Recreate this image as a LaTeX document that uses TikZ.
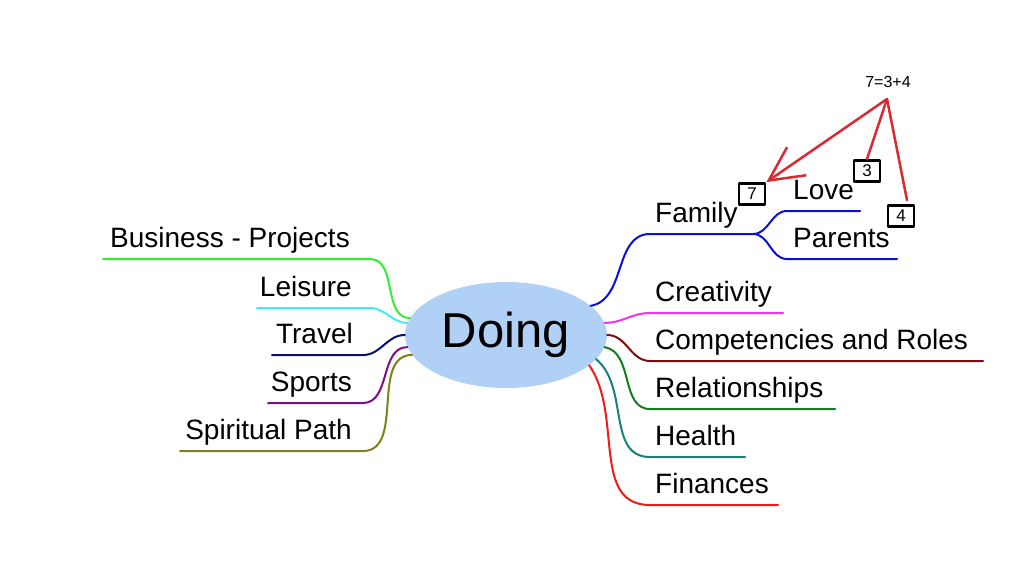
\documentclass[tikz,border=0pt]{standalone}
\usepackage{fontspec}
\setmainfont{Liberation Sans}
\usetikzlibrary{arrows.meta,shapes.geometric}
\definecolor{qqffqq}{rgb}{0.2,0.93,0.2}
\definecolor{qqffff}{rgb}{0.25,0.93,0.96}
\definecolor{qqqqww}{rgb}{0.05,0.05,0.45}
\definecolor{wwqqww}{rgb}{0.5,0.05,0.5}
\definecolor{wwwwqq}{rgb}{0.5,0.5,0.1}
\definecolor{qqqqdd}{rgb}{0.05,0.05,0.85}
\definecolor{ffqqff}{rgb}{0.93,0.2,0.93}
\definecolor{wwqqqq}{rgb}{0.5,0.05,0.05}
\definecolor{qqwwqq}{rgb}{0.05,0.5,0.1}
\definecolor{qqwwww}{rgb}{0.1,0.5,0.5}
\definecolor{ffqqqq}{rgb}{0.95,0.1,0.1}
\definecolor{ddqqqq}{rgb}{0.86,0.16,0.2}
\definecolor{bbddff}{rgb}{0.69,0.82,0.96}

\begin{document}
\begin{tikzpicture}[line cap=round,line join=round,x=1pt,y=-1pt,
	branch/.style={line width=2pt},
	topic/.style={font=\fontsize{28}{30}\selectfont,inner sep=0pt},
	numbox/.style={draw,line width=2.8pt,font=\fontsize{17}{18}\selectfont,minimum width=26pt,minimum height=21pt,inner sep=0pt},
	sumline/.style={color=ddqqqq,line width=2.5pt}]
			\useasboundingbox (0,0) rectangle (1010,568);
			\node [ellipse,fill=bbddff,minimum width=202pt,minimum height=106pt,inner sep=0pt,font=\fontsize{49}{50}\selectfont] (doing) at (506,335) {\raisebox{-3pt}{Doing}};
			
			% left side
			\node [topic,anchor=base east] (business) at (350,247) {Business - Projects};
			\coordinate (businessA) at (103,259); \coordinate (businessB) at (370,259);
			\draw [branch,color=qqffqq] (businessA) -- (businessB) to[out=0,in=180] (doing.170);
			
			\node [topic,anchor=base east] (leisure) at (352,296) {Leisure};
			\coordinate (leisureA) at (257,308); \coordinate (leisureB) at (370,308);
			\draw [branch,color=qqffff] (leisureA) -- (leisureB) to[out=0,in=180] (doing.173);
			
			\node [topic,anchor=base east] (travel) at (353,343) {Travel};
			\coordinate (travelA) at (272,355); \coordinate (travelB) at (363,355);
			\draw [branch,color=qqqqww] (travelA) -- (travelB) to[out=0,in=180] (doing.180);
			
			\node [topic,anchor=base east] (sports) at (352,391) {Sports};
			\coordinate (sportsA) at (268,403); \coordinate (sportsB) at (363,403);
			\draw [branch,color=wwqqww] (sportsA) -- (sportsB) to[out=0,in=180] (doing.187);
			
			\node [topic,anchor=base east] (spiritual) at (352,439) {Spiritual Path};
			\coordinate (spiritualA) at (180,451); \coordinate (spiritualB) at (363,451);
			\draw [branch,color=wwwwqq] (spiritualA) -- (spiritualB) to[out=0,in=180] (doing.192);
			
			% right side
			\node [topic,anchor=base west] (family) at (655,222) {Family};
			\coordinate (familyA) at (650,234); \coordinate (familyB) at (753,234);
			\draw [branch,color=qqqqdd] (doing.19) to[out=10,in=180] (familyA) -- (familyB);
			
			\node [topic,anchor=base west] (love) at (793,199) {Love};
			\coordinate (loveA) at (787,211); \coordinate (loveB) at (860,211);
			\draw [branch,color=qqqqdd] (familyB) to[out=0,in=180] (loveA) -- (loveB);
			
			\node [topic,anchor=base west] (parents) at (793,247) {Parents};
			\coordinate (parentsA) at (787,259); \coordinate (parentsB) at (897,259);
			\draw [branch,color=qqqqdd] (familyB) to[out=0,in=180] (parentsA) -- (parentsB);
			
			\node [topic,anchor=base west] (creativity) at (655,301) {Creativity};
			\coordinate (creativityA) at (650,313); \coordinate (creativityB) at (783,313);
			\draw [branch,color=ffqqff] (doing.7) to[out=0,in=180] (creativityA) -- (creativityB);
			
			\node [topic,anchor=base west] (competencies) at (655,349) {Competencies and Roles};
			\coordinate (competenciesA) at (650,361); \coordinate (competenciesB) at (983,361);
			\draw [branch,color=wwqqqq] (doing.0) to[out=0,in=180] (competenciesA) -- (competenciesB);
			
			\node [topic,anchor=base west] (relationships) at (655,397) {Relationships};
			\coordinate (relationshipsA) at (650,409); \coordinate (relationshipsB) at (835,409);
			\draw [branch,color=qqwwqq] (doing.-7) to[out=-10,in=180] (relationshipsA) -- (relationshipsB);
			
			\node [topic,anchor=base west] (health) at (655,445) {Health};
			\coordinate (healthA) at (650,457); \coordinate (healthB) at (745,457);
			\draw [branch,color=qqwwww] (doing.-15) to[out=-40,in=180] (healthA) -- (healthB);
			
			\node [topic,anchor=base west] (finances) at (655,493) {Finances};
			\coordinate (financesA) at (650,505); \coordinate (financesB) at (778,505);
			\draw [branch,color=ffqqqq] (doing.-20) to[out=-55,in=180] (financesA) -- (financesB);
			
			% sum of the numbers
			\node [numbox] (box7) at (752,194) {7};
			\node [numbox] (box3) at (867,171) {3};
			\node [numbox] (box4) at (901,216) {4};
			\node [font=\fontsize{16}{17}\selectfont] (sum) at (888,82) {7=3+4};
			\coordinate (apex) at (887,99);
			\draw [sumline,-{Straight Barb[length=34pt,width=34pt,line width=2.5pt]}] (apex) -- (box7.north east);
			\draw [sumline] (apex) -- (box3.north);
			\draw [sumline] (apex) -- ([xshift=6pt,yshift=4pt]box4.north);
		\end{tikzpicture}
\end{document}
